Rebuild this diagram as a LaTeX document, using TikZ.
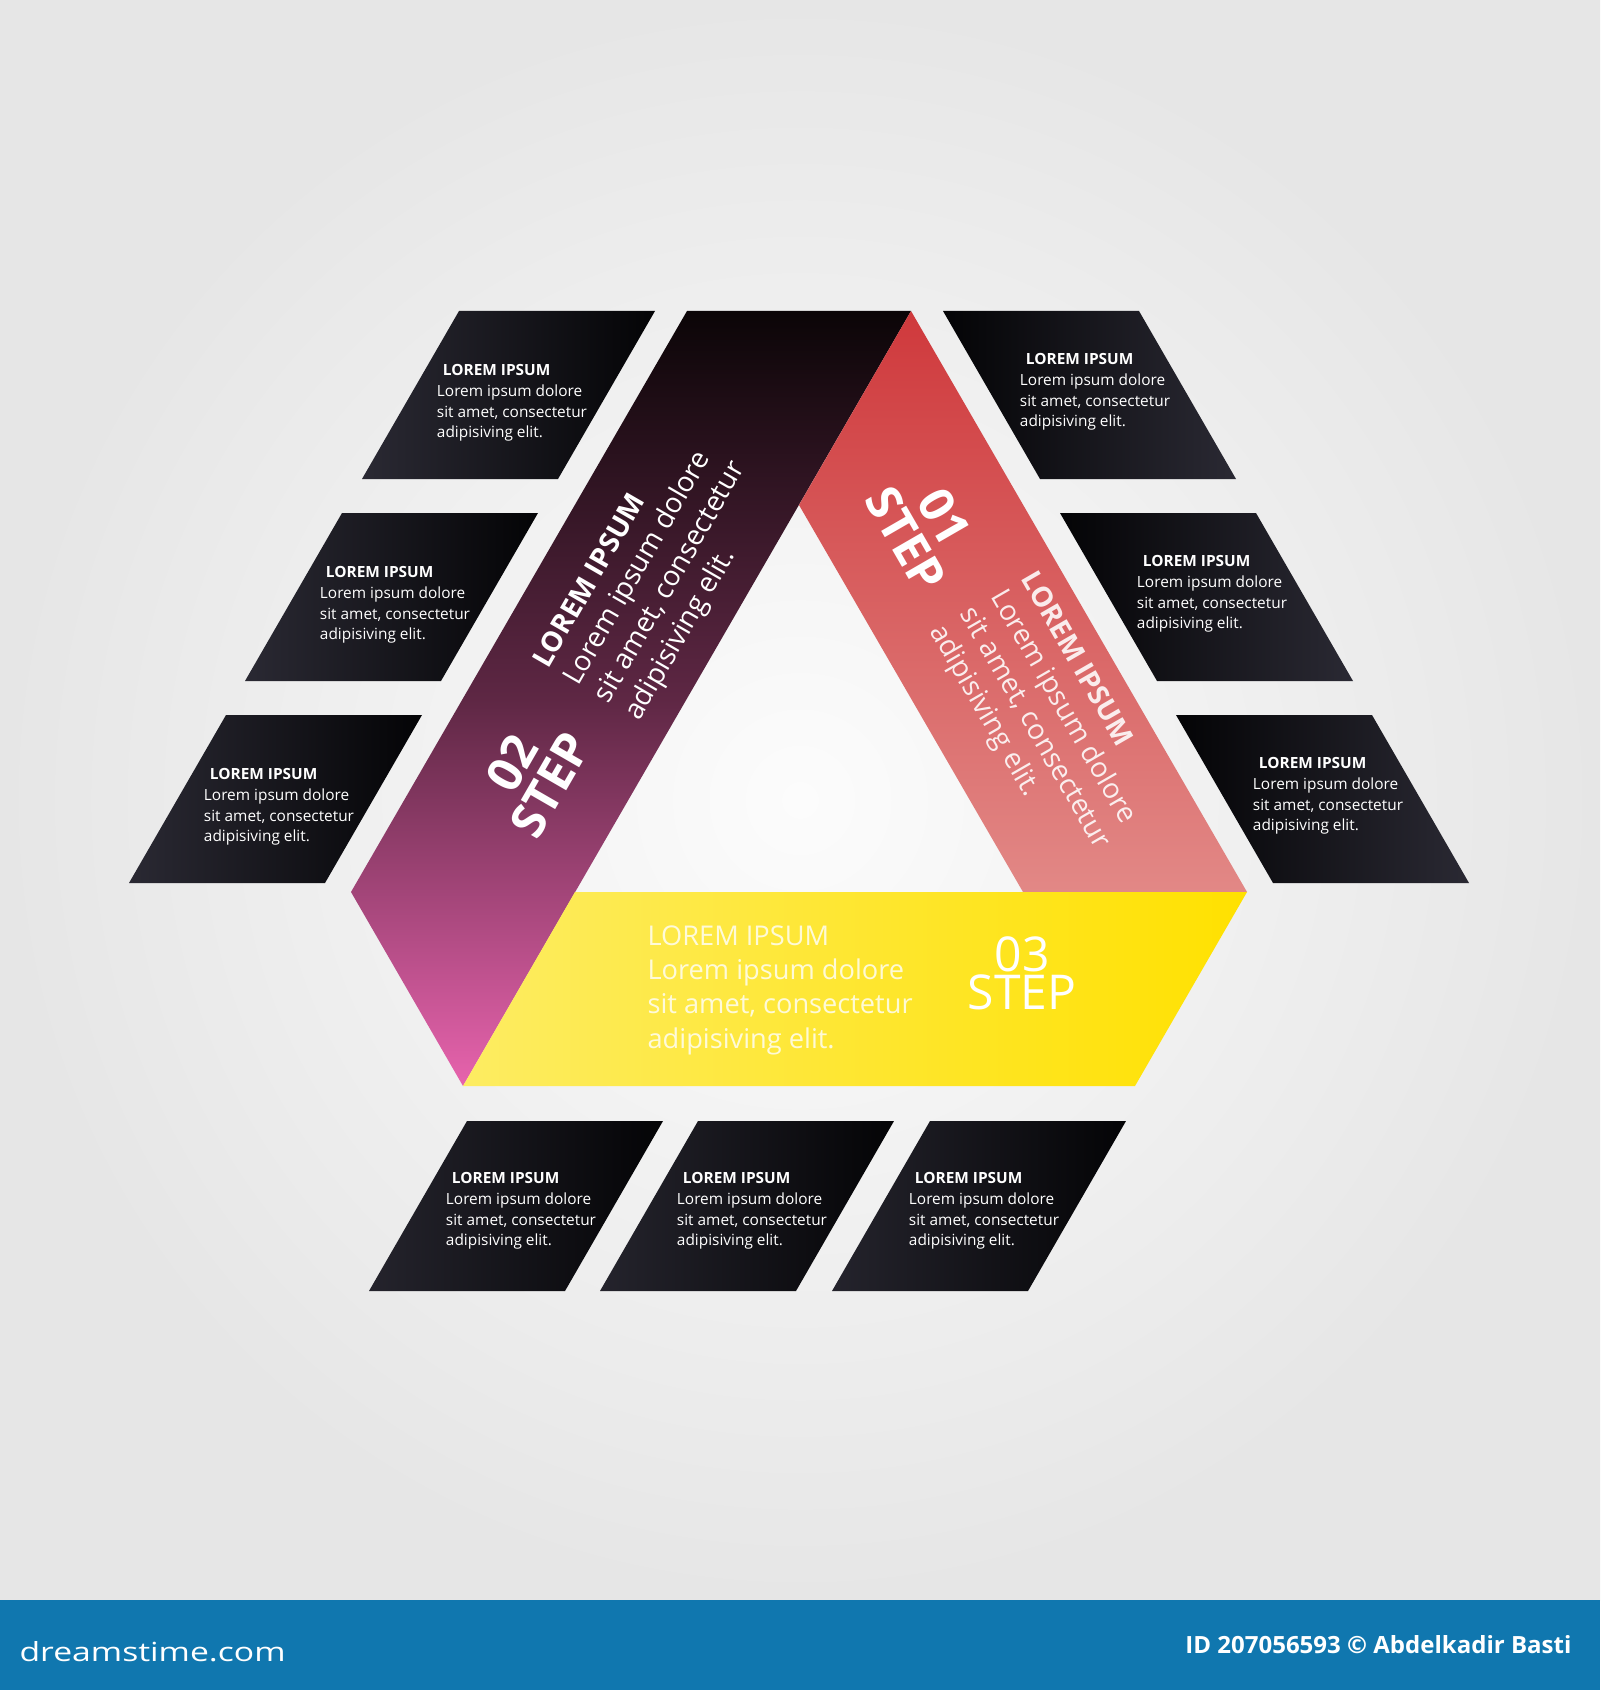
\documentclass[tikz,border=0pt]{standalone}
\usepackage{fontspec}
\setmainfont{Open Sans}
\usepackage{tikz}
\usetikzlibrary{calc}

\definecolor{bgin}{HTML}{FCFCFC}
\definecolor{bgout}{HTML}{E6E6E6}
\definecolor{footblue}{HTML}{1077AF}
\definecolor{darktop}{HTML}{0B0507}
\definecolor{darkmid}{HTML}{5E2744}
\definecolor{pinkbot}{HTML}{E763AD}
\definecolor{redtop}{HTML}{CF393C}
\definecolor{redbot}{HTML}{E28886}
\definecolor{yelleft}{HTML}{FDEC62}
\definecolor{yelright}{HTML}{FFE100}
\definecolor{boxlight}{HTML}{2A2933}
\definecolor{boxdark}{HTML}{040406}

\newcommand{\loremtext}{\textbf{\hspace*{3pt}LOREM IPSUM}\\Lorem ipsum dolore\\sit amet, consectetur\\adipisiving elit.}

\begin{document}
\begin{tikzpicture}[
            x = 0.5pt, % one unit is one pixel of the sketch
            y = -0.5pt, % y grows downwards
            semithick
        ]

        \tikzstyle{info}=[
            text = white,
            align = left,
            inner sep = 0pt,
            font = \fontsize{7.7}{10.3}\selectfont
        ]
        \tikzstyle{band text}=[info, font = \fontsize{14}{17.5}\selectfont]
        \tikzstyle{step text}=[info, align = center, font = \fontsize{24}{22}\selectfont\bfseries]
        \tikzstyle{left box}=[left color = boxlight, right color = boxdark]
        \tikzstyle{right box}=[left color = boxdark, right color = boxlight]
        \tikzstyle{bottom box}=[left color = boxlight!85!boxdark, right color = boxdark]

        % background and footer
        \shade[inner color = bgin, outer color = bgout] (0,0) rectangle (1600,1600);
        \fill[footblue] (0,1600) rectangle (1600,1690);
        \useasboundingbox (0,0) rectangle (1600,1690);

        % corners of the triangle
        \coordinate (TL) at (687,311);
        \coordinate (TR) at (911,311);
        \coordinate (AP) at (799,505);
        \coordinate (ML) at (351,892);
        \coordinate (IL) at (575,892);
        \coordinate (IR) at (1023,892);
        \coordinate (MR) at (1247,892);
        \coordinate (BL) at (463,1086);
        \coordinate (BR) at (1135,1086);

        % the three bands
        \shade[top color = darktop, bottom color = pinkbot, middle color = darkmid] (TL) -- (TR) -- (BL) -- (ML) -- cycle;
        \shade[top color = redtop, bottom color = redbot] (TR) -- (MR) -- (IR) -- (AP) -- cycle;
        \shade[left color = yelleft, right color = yelright] (IL) -- (MR) -- (BR) -- (BL) -- cycle;

        % step 01
        \node[step text, rotate = -60] (S01) at (925,528) {01\\STEP};
        \node[band text, rotate = -60, text opacity = 0.88] (T01) at (1049,720)
            {\textbf{LOREM IPSUM}\\Lorem ipsum dolore\\sit amet, consectetur\\adipisiving elit.};

        % step 02
        \node[step text, rotate = 60] (S02) at (531,774) {02\\STEP};
        \node[band text, rotate = 60] (T02) at (656,574)
            {\textbf{LOREM IPSUM}\\Lorem ipsum dolore\\sit amet, consectetur\\adipisiving elit.};

        % step 03
        \node[step text, font = \fontsize{24}{19}\selectfont] (S03) at (1022,973) {03\\STEP};
        \node[band text, anchor = west, text opacity = 0.8, font = \fontsize{13.6}{17.2}\selectfont] (T03) at (647,990)
            {LOREM IPSUM\\Lorem ipsum dolore\\sit amet, consectetur\\adipisiving elit.};

        % left column
        \coordinate (L1) at (459,311);
        \coordinate (L2) at (342,513);
        \coordinate (L3) at (226,715);
        \shade[left box] (L1) -- ++(196,0) -- ++(-97,168) -- ++(-196,0) -- cycle;
        \shade[left box] (L2) -- ++(196,0) -- ++(-97,168) -- ++(-196,0) -- cycle;
        \shade[left box] (L3) -- ++(196,0) -- ++(-97,168) -- ++(-196,0) -- cycle;
        \node[info] (l1) at ($(L1)+(53,92)$) {\loremtext};
        \node[info] (l2) at ($(L2)+(53,92)$) {\loremtext};
        \node[info] (l3) at ($(L3)+(53,92)$) {\loremtext};

        % right column
        \coordinate (R1) at (943,311);
        \coordinate (R2) at (1060,513);
        \coordinate (R3) at (1176,715);
        \shade[right box] (R1) -- ++(196,0) -- ++(97,168) -- ++(-196,0) -- cycle;
        \shade[right box] (R2) -- ++(196,0) -- ++(97,168) -- ++(-196,0) -- cycle;
        \shade[right box] (R3) -- ++(196,0) -- ++(97,168) -- ++(-196,0) -- cycle;
        \node[info] (r1) at ($(R1)+(152,81)$) {\loremtext};
        \node[info] (r2) at ($(R2)+(152,81)$) {\loremtext};
        \node[info] (r3) at ($(R3)+(152,81)$) {\loremtext};

        % bottom row
        \coordinate (B1) at (467,1121);
        \coordinate (B2) at (698,1121);
        \coordinate (B3) at (930,1121);
        \shade[bottom box] (B1) -- ++(196,0) -- ++(-98,170) -- ++(-196,0) -- cycle;
        \shade[bottom box] (B2) -- ++(196,0) -- ++(-98,170) -- ++(-196,0) -- cycle;
        \shade[bottom box] (B3) -- ++(196,0) -- ++(-98,170) -- ++(-196,0) -- cycle;
        \node[info] (b1) at ($(B1)+(54,90)$) {\loremtext};
        \node[info] (b2) at ($(B2)+(54,90)$) {\loremtext};
        \node[info] (b3) at ($(B3)+(54,90)$) {\loremtext};

        % footer texts
        \node[text = white, anchor = west, inner sep = 0pt] (site) at (19,1652)
            {\resizebox{133pt}{10pt}{dreamstime.com}};
        \node[text = white, anchor = east, inner sep = 0pt] (credit) at (1572,1645)
            {\resizebox{193pt}{9pt}{\bfseries ID 207056593 \textcopyright{} Abdelkadir Basti}};

\end{tikzpicture}
\end{document}
